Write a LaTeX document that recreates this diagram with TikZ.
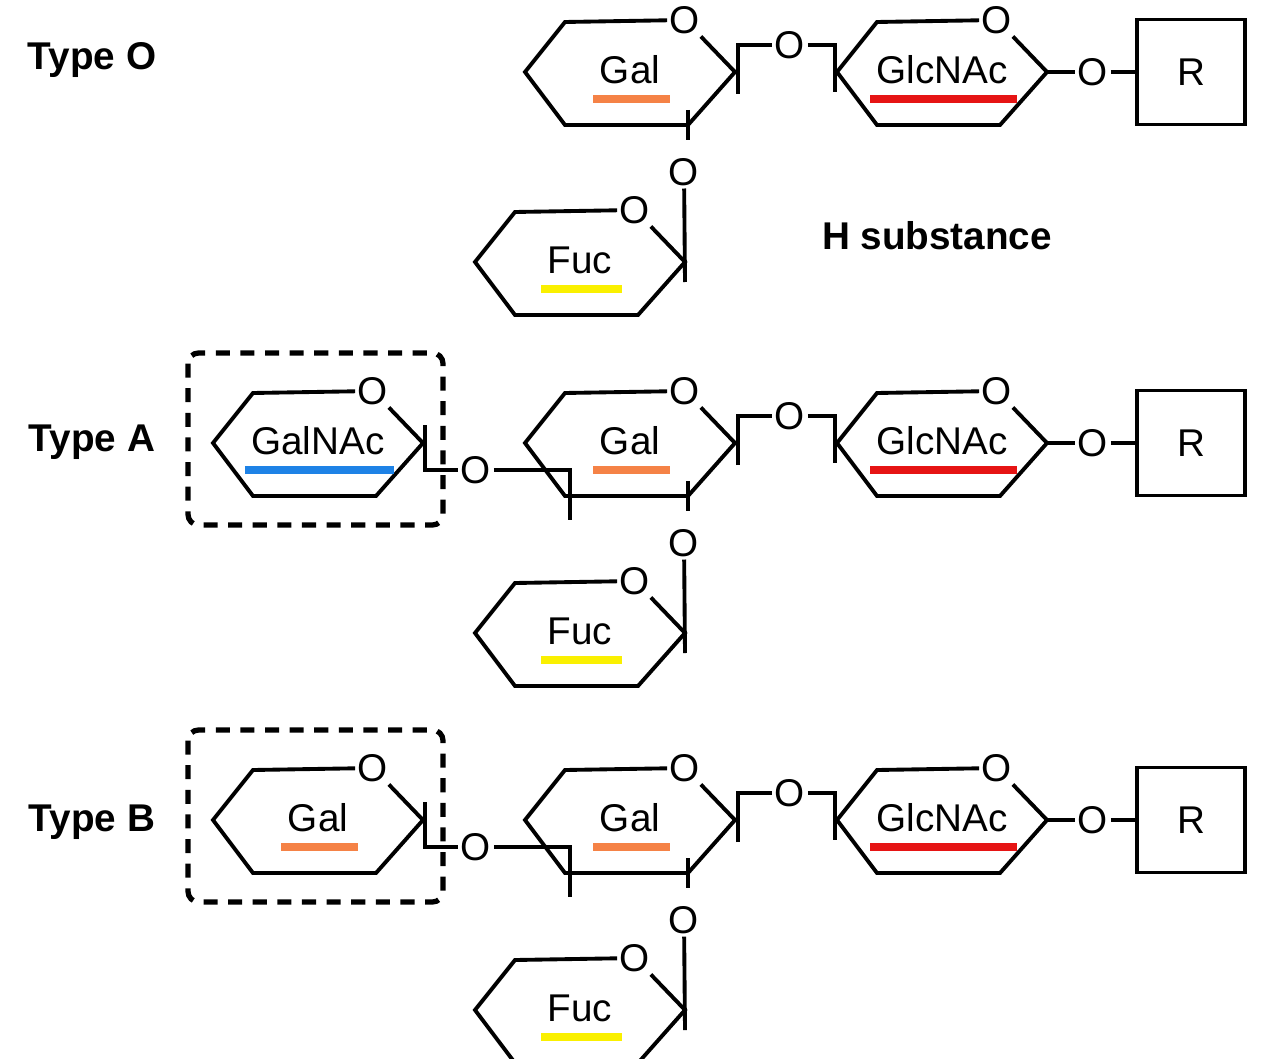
\documentclass[tikz,border=0pt]{standalone}
\usepackage{fontspec}
\setmainfont{Liberation Sans}
\usetikzlibrary{calc}
\tikzset{
  ring/.style={line width=1.1pt, line join=miter},
  link/.style={line width=1.1pt},
  ringO/.style={inner sep=0.6pt, font=\fontsize{11}{11}\selectfont},
  sugar/.style={font=\fontsize{11}{11}\selectfont},
  ulin/.style={line width=2.4pt},
  typelabel/.style={font=\bfseries\fontsize{11}{11}\selectfont},
}
\definecolor{galOrange}{RGB}{245,130,70}
\definecolor{glcRed}{RGB}{230,20,20}
\definecolor{fucYellow}{RGB}{250,240,0}
\definecolor{nacBlue}{RGB}{30,130,230}

% ring: name, centre, label, colour
\newcommand{\ring}[4]{%
  \coordinate (#1) at (#2);
  \node[ringO] (#1-o) at ($(#1)+(55,-52)$) {O};
  \draw[ring] (#1-o) -- ($(#1)+(105,0)$) coordinate (#1-r)
    -- ($(#1)+(58,53)$) coordinate (#1-br)
    -- ($(#1)+(-65,53)$) coordinate (#1-bl)
    -- ($(#1)+(-105,0)$) coordinate (#1-l)
    -- ($(#1)+(-65,-50)$) coordinate (#1-tl) -- (#1-o);
  \node[sugar] (#1-t) at ($(#1)+(0,-2)$) {#3};
  \draw[ulin, #4] ($(#1-t.west|-#1)+(6,27)$) -- ($(#1-t.east|-#1)+(-3,27)$);
}

% common part of each row: Gal, GlcNAc, Fuc and R
\newcommand{\chain}[2]{%
  \ring{#1gal}{630,#2}{Gal}{galOrange}
  \ring{#1gn}{942,#2}{GlcNAc}{glcRed}
  \ring{#1fuc}{580,#2+190}{Fuc}{fucYellow}
  \node[draw, link, minimum width=1.08cm, minimum height=1.05cm, sugar] (#1r) at (1191,#2) {R};
  % Gal -> GlcNAc
  \node[ringO] (#1o1) at (790,#2-27) {O};
  \draw[link] ($(#1gal-r)+(3,22)$) -- ($(#1gal-r)+(3,-27)$) -- (#1o1);
  \draw[link] (#1o1) -| ($(#1gn-l)+(-2,20)$);
  % GlcNAc -> R
  \node[ringO] (#1o2) at (1093,#2) {O};
  \draw[link] (#1gn-r) -- (#1o2) -- (#1r);
  % Fuc -> Gal
  \node[ringO] (#1o3) at (684,#2+100) {O};
  \draw[link] ($(#1gal-br)+(0,-15)$) -- ++(0,30);
  \draw[link] (#1o3) -- ($(#1fuc-r)+(0,20)$);
}

% terminal sugar inside a dashed box
\newcommand{\terminal}[4]{%
  \ring{#1t}{318,#2}{#3}{#4}
  \draw[dashed, line width=1.5pt, dash pattern=on 4pt off 3pt, rounded corners=3pt]
    (188,#2-90) rectangle (443,#2+82);
  \node[ringO] (#1o4) at (476,#2+27) {O};
  \draw[link] ($(#1t-r)+(2,-18)$) |- (#1o4);
  \draw[link] (#1o4) -- ++(94,0) -- ++(0,50);
}

\begin{document}
\begin{tikzpicture}[x=0.01cm, y=-0.01cm]
  \useasboundingbox (0,0) rectangle (1286,1058);

  \node[typelabel] (lo) at (92,60) {Type O};
  \node[typelabel] (la) at (92,442) {Type A};
  \node[typelabel] (lb) at (92,822) {Type B};
  \node[typelabel] (hs) at (937,236) {H substance};

  \chain{o}{72}
  \chain{a}{443}
  \chain{b}{820}

  \terminal{a}{443}{GalNAc}{nacBlue}
  \terminal{b}{820}{Gal}{galOrange}
\end{tikzpicture}
\end{document}
